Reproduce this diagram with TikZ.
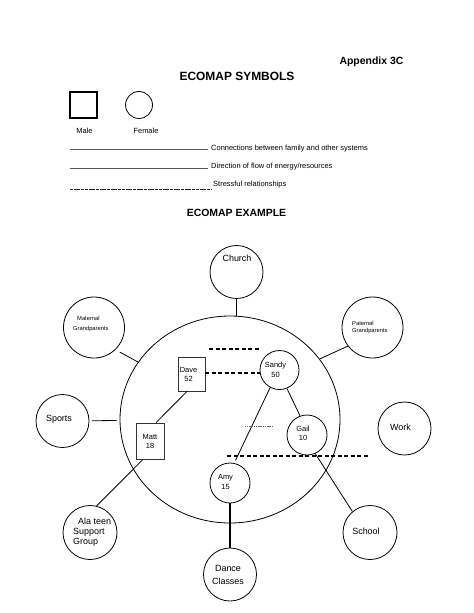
\documentclass[tikz,border=0pt]{standalone}
\usepackage{fontspec}
\setmainfont{Liberation Sans}
\usetikzlibrary{shapes.geometric}
\begin{document}
\begin{tikzpicture}[x=1bp,y=-1bp,
  circ/.style={draw,circle,inner sep=0pt,line width=0.8pt},
  sq/.style={draw,rectangle,inner sep=0pt,line width=0.8pt,draw=black!80},
  conn/.style={line width=0.8pt},
  thickconn/.style={line width=1.2pt},
  stress/.style={line width=1.1pt,dash pattern=on 4bp off 2.5bp},
  faint/.style={line width=0.6pt,draw=black!60,dash pattern=on 1.2bp off 0.6bp},
  lbl/.style={inner sep=0pt,font=\fontsize{7.5}{9}\selectfont,align=center},
  big/.style={inner sep=0pt,font=\fontsize{9}{10}\selectfont,align=center},
  tiny/.style={inner sep=0pt,font=\fontsize{5.8}{8}\selectfont,align=left,anchor=west},
  legtext/.style={inner sep=0pt,font=\fontsize{7.5}{9}\selectfont,anchor=west}]
\useasboundingbox (0,0) rectangle (474,613);

% headings
\node[inner sep=0pt,font=\fontsize{10.5}{12}\selectfont\bfseries] (app) at (371.5,62) {Appendix 3C};
\node[inner sep=0pt,font=\fontsize{12}{14}\selectfont\bfseries] (sym) at (237,76) {ECOMAP SYMBOLS};
\node[inner sep=0pt,font=\fontsize{10.5}{12}\selectfont\bfseries] (ex) at (236.5,213) {ECOMAP EXAMPLE};

% legend
\node[draw,rectangle,inner sep=0pt,minimum width=27bp,minimum height=26bp,line width=1.2pt] (male) at (83.5,105) {};
\node[circ,minimum size=27bp] (female) at (139,105) {};
\node[lbl] (malet) at (84.5,131) {Male};
\node[lbl] (femalet) at (146,131) {Female};

\coordinate (l1a) at (70,149.5); \coordinate (l1b) at (208,149.5);
\coordinate (l2a) at (70,168); \coordinate (l2b) at (208,168);
\coordinate (l3a) at (70,189); \coordinate (l3b) at (212,189);
\draw[line width=0.5pt,black!65] (l1a) -- (l1b);
\draw[line width=0.5pt,black!65] (l2a) -- (l2b);
\draw[line width=0.9pt,black!85,dash pattern=on 3bp off 0.7bp] (l3a) -- (l3b);
\node[legtext] (t1) at (211,149) {Connections between family and other systems};
\node[legtext] (t2) at (211,167) {Direction of flow of energy/resources};
\node[legtext] (t3) at (213,185) {Stressful relationships};

% ecomap
\node[draw,ellipse,inner sep=0pt,minimum width=220bp,minimum height=207bp,line width=0.8pt] (bigc) at (230,419.5) {};
\node[circ,minimum size=53bp] (church) at (236.5,272) {};
\node[circ,minimum size=61bp] (mat) at (94,327.5) {};
\node[circ,minimum size=61bp] (pat) at (372.5,327.5) {};
\node[circ,minimum size=53bp] (sports) at (62.5,421) {};
\node[circ,minimum size=53bp] (work) at (404.5,428.5) {};
\node[circ,minimum size=54bp] (ala) at (90,532.5) {};
\node[circ,minimum size=53bp] (dance) at (230,574.5) {};
\node[circ,minimum size=54bp] (school) at (370,532.5) {};
\node[circ,minimum size=39bp] (sandy) at (279.5,370) {};
\node[circ,minimum size=40bp] (gail) at (307,435) {};
\node[circ,minimum size=40bp] (amy) at (230,483) {};
\node[sq,minimum width=27bp,minimum height=34bp] (dave) at (191.5,374) {};
\node[sq,minimum width=28bp,minimum height=36bp] (matt) at (150,441) {};

% texts
\node[big] (churcht) at (237,258) {Church};
\node[tiny] (matt1) at (77,318) {Maternal};
\node[tiny] (matt2) at (73,329.5) {Grandparents};
\node[tiny] (patt1) at (352,323) {Paternal};
\node[tiny] (patt2) at (352,331) {Grandparents};
\node[big] (sportst) at (59,419) {Sports};
\node[big] (workt) at (400.5,427) {Work};
\node[big] (schoolt) at (366,531) {School};
\node[big,font=\fontsize{9}{13}\selectfont] (dancet) at (228,574.5) {Dance\\Classes};
\node[big,align=left,anchor=west] (alat) at (73,532) {\hspace{5bp}Ala teen\\Support\\Group};
\node[lbl] (davet) at (188.5,374.5) {Dave\\52};
\node[lbl,font=\fontsize{7.5}{10}\selectfont] (sandyt) at (275.5,370) {Sandy\\50};
\node[lbl] (gailt) at (303,433.5) {Gail\\10};
\node[lbl] (mattt) at (150,441.5) {Matt\\18};
\node[lbl,font=\fontsize{7.5}{10}\selectfont] (amyt) at (225.5,482) {Amy\\15};

% connectors
\draw[thickconn] (church.south) -- (church.south |- bigc.north);
\draw[conn,shorten <=5bp] (mat.-46) -- (bigc.148);
\draw[conn] (pat.217) -- (bigc.34);
\draw[conn,shorten <=2.5bp,shorten >=3bp] (sports) -- (bigc);
\draw[conn] ([xshift=-4.5bp]dave.south) -- ([xshift=6bp]matt.north);
\draw[conn] ([xshift=-7bp]matt.south) -- (ala.76);
\draw[conn,shorten >=3bp] (sandy.-118) -- (amy.78);
\draw[conn] (sandy.-68) -- (gail.110);
\draw[conn] (gail.-66) -- (school.130);
\draw[thickconn] (amy.south) -- (dance.north);

% stressful relationships
\draw[stress] (dave.east |- sandy.west) ++(0,3) coordinate (ds) (dave.east |- ds) -- (sandy.west |- ds);
\coordinate (s1a) at (209,349); \coordinate (s1b) at (259,349);
\draw[stress] (s1a) -- (s1b);
\coordinate (s2a) at (227,456); \coordinate (s2b) at (368,456);
\draw[stress] (s2a) -- (s2b);
\coordinate (s3a) at (245,426); \coordinate (s3b) at (273,426);
\draw[faint] (s3a) -- (s3b);
\end{tikzpicture}
\end{document}
